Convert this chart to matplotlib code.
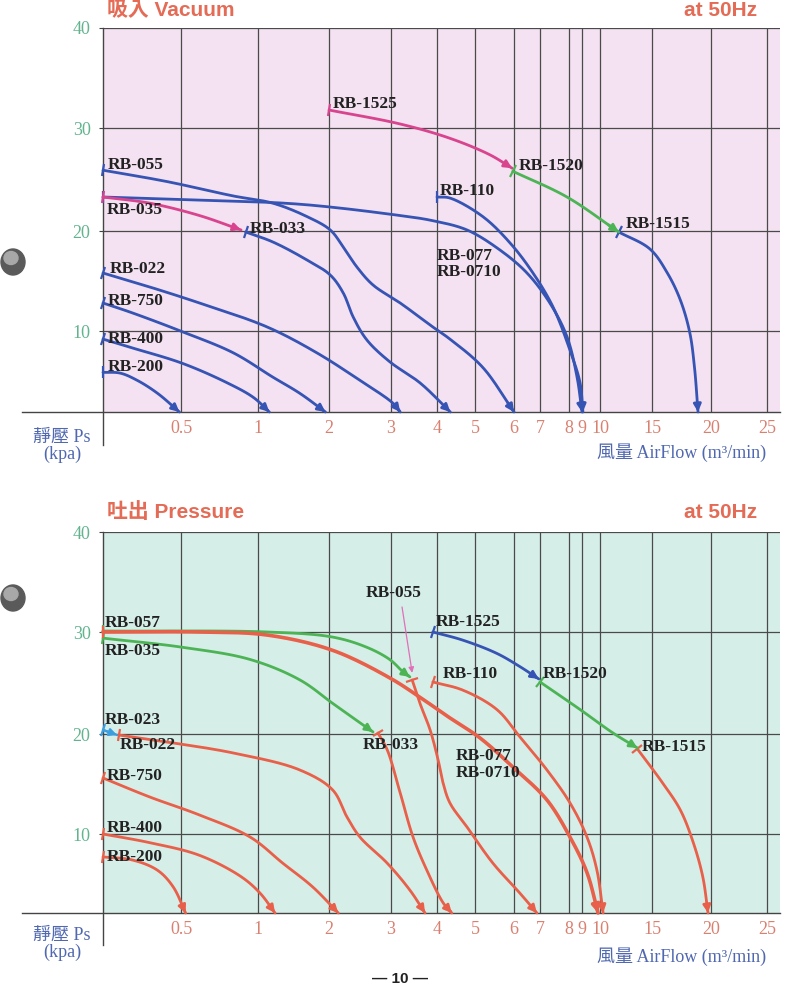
import numpy as np
import matplotlib
matplotlib.use("Agg")
import matplotlib.pyplot as plt
from matplotlib.markers import MarkerStyle
from matplotlib.transforms import Affine2D
from matplotlib.patches import Ellipse
from matplotlib.lines import Line2D

# ---- axis grid (hand drawn, uneven spacing) ----
airflow_ticks = [0.5, 1, 2, 3, 4, 5, 6, 7, 8, 9, 10, 15, 20, 25]
airflow_labels = ["0.5", "1", "2", "3", "4", "5", "6", "7", "8", "9", "10", "15", "20", "25"]
x_scale_vals = [0, 0.5, 1, 2, 3, 4, 5, 6, 7, 8, 9, 10, 15, 20, 25, 30]
x_scale_pos = [0, 78, 155, 226, 288, 334, 372, 411, 437, 466, 479, 497, 549, 608, 664, 720]
y_scale_vals = [0, 10, 20, 30, 40]
y_pos_vac = [0, 81, 181, 284, 384]
y_pos_pre = [0, 79, 179, 281, 381]
ps_ticks = [10, 20, 30, 40]

# ---- 吸入 Vacuum curves (x: m3/min, y: kPa) ----
v200_x = [0, 0.11, 0.22, 0.35, 0.49]
v200_y = [4.9, 4.8, 3.9, 2.3, 0]
v400_x = [0, 0.19, 0.51, 0.8, 0.97, 1.16]
v400_y = [9.0, 7.9, 6.0, 3.6, 1.8, 0]
v750_x = [0, 0.19, 0.51, 0.84, 1.21, 1.59, 1.95]
v750_y = [12.8, 11.8, 9.9, 7.3, 4.3, 2.3, 0]
v022_x = [0, 0.30, 0.62, 1.13, 1.83, 2.5, 3.04, 3.2]
v022_y = [15.8, 14.4, 12.8, 10.4, 7.3, 3.9, 1.1, 0]
v033_x = [0.92, 1.21, 1.69, 2.02, 2.23, 2.39, 2.61, 2.98, 3.63, 4.35]
v033_y = [19.9, 18.9, 17.1, 15.6, 13.8, 11.4, 8.9, 6.2, 3.6, 0]
v055_x = [0, 0.41, 0.84, 1.21, 1.69, 2.02, 2.23, 2.45, 2.71, 3.2, 3.91, 4.34, 5.2, 6.0]
v055_y = [25.9, 24.8, 23.4, 22.7, 21.4, 20.1, 18.4, 16.4, 14.6, 12.8, 10.4, 9.0, 5.5, 0]
v077_x = [0, 0.62, 1.59, 3.2, 3.91, 4.79, 5.64, 6.5, 7.34, 7.93, 8.62, 9.0]
v077_y = [23.3, 23.0, 22.6, 21.5, 21.0, 20.1, 18.1, 15.8, 12.8, 9.3, 4.3, 0]
v110_x = [4.0, 4.34, 5.2, 5.9, 6.73, 7.45, 8.08, 8.85, 9.05]
v110_y = [23.3, 23.2, 21.4, 18.8, 15.8, 12.4, 7.6, 3.6, 0]
v1525_x = [2.0, 3.2, 4.34, 5.38, 5.95]
v1525_y = [31.8, 30.4, 29.0, 27.4, 26.1]
v1520_x = [5.97, 7.93, 11.8]
v1520_y = [25.8, 23.3, 19.9]
v1515_x = [11.8, 14.8, 16.3, 17.4, 18.2, 18.6, 18.9]
v1515_y = [19.9, 18.2, 15.8, 13.1, 9.8, 5.5, 0]
v035_x = [0, 0.30, 0.62, 0.89]
v035_y = [23.3, 22.7, 21.5, 20.1]

# ---- 吐出 Pressure curves ----
p200_x = [0, 0.19, 0.35, 0.45, 0.53]
p200_y = [7.1, 6.7, 5.4, 3.3, 0]
p400_x = [0, 0.30, 0.62, 0.89, 1.03, 1.24]
p400_y = [10.0, 8.9, 7.3, 4.6, 2.5, 0]
p750_x = [0, 0.30, 0.62, 0.95, 1.35, 1.77, 2.15]
p750_y = [15.6, 13.7, 11.9, 9.6, 6.3, 3.3, 0]
p023_x = [0, 0.09]
p023_y = [20.4, 19.9]
p022_x = [0.1, 0.41, 0.84, 1.59, 2.06, 2.29, 2.5, 2.94, 3.41, 3.74]
p022_y = [19.9, 19.2, 18.1, 16.4, 14.4, 11.7, 9.6, 6.3, 2.9, 0]
p033_x = [2.79, 2.94, 3.2, 3.48, 3.78, 4.16, 4.39]
p033_y = [20.1, 18.4, 14.1, 9.6, 5.4, 1.3, 0]
p055_x = [3.46, 3.63, 3.85, 4.03, 4.16, 4.34, 4.79, 5.46, 6.23, 6.88]
p055_y = [25.3, 23.0, 20.4, 17.4, 15.1, 13.1, 10.7, 6.3, 2.5, 0]
p057_x = [0, 0.62, 1.13, 2.06, 2.98, 3.63, 4.29, 5.13, 5.97, 7.24, 8.08, 9.28, 9.89]
p057_y = [30, 30, 29.7, 28.2, 25.5, 23.6, 21.7, 19.6, 16.7, 13.4, 9.6, 5.1, 0]
p110_x = [3.91, 4.68, 5.56, 6.23, 7.24, 8.08, 9.28, 9.83, 10.3]
p110_y = [25.1, 24.3, 22.4, 19.7, 16.4, 13.1, 9.6, 5.4, 0]
p1525_x = [3.91, 4.68, 5.56, 6.23, 6.95]
p1525_y = [30, 29.2, 27.9, 26.6, 25.4]
p1520_x = [7.0, 8.85, 11.25, 13.6]
p1520_y = [25.1, 22.4, 20.1, 18.6]
p1515_x = [13.6, 15.9, 17.4, 18.5, 19.3, 19.75]
p1515_y = [18.5, 15.1, 12.4, 8.9, 4.6, 0]
p057g_x = [0, 1.13, 2.06, 2.61, 2.98, 3.26, 3.41]
p057g_y = [30.1, 30, 29.5, 28.5, 27.3, 26.1, 25.6]
p035_x = [0, 0.51, 0.95, 1.59, 2.06, 2.5, 2.71]
p035_y = [29.4, 28.5, 27.3, 25.3, 23.0, 21.1, 20.2]

BLUE = "#3654b4"
PINK = "#d8448e"
GREEN = "#4cb455"
RED = "#e8604a"
LBLUE = "#3b9ee0"

SERIF = ["Liberation Serif", "Noto Sans CJK TC"]
SANS = ["Liberation Sans", "Noto Sans CJK TC"]


def make_scale(vals, pos):
    return (lambda v: np.interp(v, vals, pos), lambda p: np.interp(p, pos, vals))


def setup(ax, bg, ypos):
    ax.set_facecolor(bg)
    ax.set_xscale("function", functions=make_scale(x_scale_vals, x_scale_pos))
    ax.set_yscale("function", functions=make_scale(y_scale_vals, ypos))
    ax.set_xlim(0, 26.16)
    ax.set_ylim(0, 40)
    ax.set_xticks(airflow_ticks)
    ax.set_xticklabels(airflow_labels, family=SERIF, fontsize=13, color="#d98070")
    ax.set_yticks(ps_ticks)
    ax.set_yticklabels([str(t) for t in ps_ticks], family=SERIF, fontsize=13, color="#62b48e")
    ax.xaxis.set_minor_locator(matplotlib.ticker.NullLocator())
    ax.yaxis.set_minor_locator(matplotlib.ticker.NullLocator())
    ax.tick_params(axis="x", length=0, pad=6)
    ax.tick_params(axis="y", length=3, color="#444", pad=6)
    ax.grid(True, color="#4a4a4a", lw=0.9)
    ax.set_axisbelow(True)
    for s in ax.spines.values():
        s.set_visible(False)
    ax.add_line(Line2D([0, 0], [-0.085, 1], transform=ax.transAxes, color="#444", lw=1.0, clip_on=False))
    ax.add_line(Line2D([-0.12, 1], [0, 0], transform=ax.transAxes, color="#444", lw=1.0, clip_on=False))


def catmull_rom(pts, n=20):
    # centripetal Catmull-Rom through the points (display space), only for drawing
    if len(pts) < 3:
        return pts
    P = np.vstack([2 * pts[0] - pts[1], pts, 2 * pts[-1] - pts[-2]])
    out = []
    for i in range(1, len(P) - 2):
        p0, p1, p2, p3 = P[i - 1], P[i], P[i + 1], P[i + 2]
        t0 = 0.0
        t1 = t0 + max(np.linalg.norm(p1 - p0), 1e-6) ** 0.5
        t2 = t1 + max(np.linalg.norm(p2 - p1), 1e-6) ** 0.5
        t3 = t2 + max(np.linalg.norm(p3 - p2), 1e-6) ** 0.5
        t = np.linspace(t1, t2, n, endpoint=False)[:, None]
        a1 = (t1 - t) / (t1 - t0) * p0 + (t - t0) / (t1 - t0) * p1
        a2 = (t2 - t) / (t2 - t1) * p1 + (t - t1) / (t2 - t1) * p2
        a3 = (t3 - t) / (t3 - t2) * p2 + (t - t2) / (t3 - t2) * p3
        b1 = (t2 - t) / (t2 - t0) * a1 + (t - t0) / (t2 - t0) * a2
        b2 = (t3 - t) / (t3 - t1) * a2 + (t - t1) / (t3 - t1) * a3
        out.append((t2 - t) / (t2 - t1) * b1 + (t - t1) / (t2 - t1) * b2)
    out.append(pts[-1:])
    return np.vstack(out)


def curve(ax, x, y, color, lw=2.0, head=True, cap=True):
    disp = ax.transData.transform(np.column_stack([x, y]))
    dense = ax.transData.inverted().transform(catmull_rom(disp))
    ax.plot(dense[:, 0], dense[:, 1], color=color, lw=lw, solid_capstyle="round",
            solid_joinstyle="round", clip_on=False)
    if head:
        k = max(len(dense) - 5, 0)
        ax.annotate("", xy=tuple(dense[-1]), xytext=tuple(dense[k]),
                    arrowprops=dict(arrowstyle="-|>", color=color, lw=lw, mutation_scale=11,
                                    shrinkA=0, shrinkB=0), annotation_clip=False)
    if cap:
        d = catmull_rom(disp)
        j = min(3, len(d) - 1)
        ang = np.degrees(np.arctan2(d[j, 1] - d[0, 1], d[j, 0] - d[0, 0]))
        m = MarkerStyle("|", transform=Affine2D().rotate_deg(ang))
        ax.plot(x[0], y[0], marker=m, ms=9, mew=1.6, color=color, clip_on=False)


fig = plt.figure(figsize=(8, 9.88), dpi=100)
ax1 = fig.add_axes([103 / 800, 1 - 412 / 988, 677 / 800, 384 / 988])
ax2 = fig.add_axes([103 / 800, 1 - 913 / 988, 677 / 800, 381 / 988])
setup(ax1, "#f4e1f1", y_pos_vac)
setup(ax2, "#d6eee8", y_pos_pre)

# vacuum
for cx, cy in [(v200_x, v200_y), (v400_x, v400_y), (v750_x, v750_y), (v022_x, v022_y),
               (v033_x, v033_y), (v055_x, v055_y), (v077_x, v077_y), (v110_x, v110_y),
               (v1515_x, v1515_y)]:
    curve(ax1, cx, cy, BLUE)
curve(ax1, v035_x, v035_y, PINK)
curve(ax1, v1525_x, v1525_y, PINK)
curve(ax1, v1520_x, v1520_y, GREEN)

# pressure
for cx, cy in [(p200_x, p200_y), (p400_x, p400_y), (p750_x, p750_y), (p022_x, p022_y),
               (p033_x, p033_y), (p055_x, p055_y), (p110_x, p110_y), (p1515_x, p1515_y)]:
    curve(ax2, cx, cy, RED)
curve(ax2, p057g_x, p057g_y, GREEN)
curve(ax2, p035_x, p035_y, GREEN)
curve(ax2, p057_x, p057_y, RED, lw=2.6)
curve(ax2, p1525_x, p1525_y, BLUE)
curve(ax2, p1520_x, p1520_y, GREEN)
curve(ax2, p023_x, p023_y, LBLUE, lw=1.6)
ax2.annotate("", xy=(3.46, 26.0), xytext=(3.24, 32.5),
             arrowprops=dict(arrowstyle="-|>", color="#e070b8", lw=0.9, mutation_scale=8,
                             shrinkA=0, shrinkB=0))


def label(txt, x, y):
    fig.text(x / 800, 1 - y / 988, txt, family=SERIF, weight="bold", fontsize=12.5,
             color="#222222", va="center", ha="left")


for t, x, y in [("RB-1525", 333, 104), ("RB-055", 108, 165), ("RB-035", 107, 210),
                ("RB-033", 250, 229), ("RB-022", 110, 269), ("RB-750", 108, 301),
                ("RB-400", 108, 339), ("RB-200", 108, 367), ("RB-1520", 519, 166),
                ("RB-110", 440, 191), ("RB-1515", 626, 224), ("RB-077", 437, 256),
                ("RB-0710", 437, 272),
                ("RB-055", 366, 593), ("RB-057", 105, 623), ("RB-1525", 436, 622),
                ("RB-035", 105, 651), ("RB-110", 443, 674), ("RB-1520", 543, 674),
                ("RB-023", 105, 720), ("RB-022", 120, 745), ("RB-033", 363, 745),
                ("RB-1515", 642, 747), ("RB-077", 456, 756), ("RB-0710", 456, 773),
                ("RB-750", 107, 776), ("RB-400", 107, 828), ("RB-200", 107, 857)]:
    label(t, x, y)

# titles
TITLE_C = "#e46b55"
fig.text(107 / 800, 1 - 11 / 988, "吸入 Vacuum", family=SANS, weight="bold", fontsize=15,
         color=TITLE_C, va="center")
fig.text(757 / 800, 1 - 11 / 988, "at 50Hz", family=SANS, weight="bold", fontsize=15,
         color=TITLE_C, va="center", ha="right")
fig.text(107 / 800, 1 - 512 / 988, "吐出 Pressure", family=SANS, weight="bold", fontsize=15,
         color=TITLE_C, va="center")
fig.text(757 / 800, 1 - 512 / 988, "at 50Hz", family=SANS, weight="bold", fontsize=15,
         color=TITLE_C, va="center", ha="right")

# axis captions
AX_C = "#5068b0"
for yy in (437, 935):
    fig.text(62 / 800, 1 - yy / 988, "靜壓 Ps", family=SERIF, fontsize=13, color=AX_C,
             va="center", ha="center")
    fig.text(62 / 800, 1 - (yy + 17) / 988, "(kpa)", family=SERIF, fontsize=13, color=AX_C,
             va="center", ha="center")
for yy in (453, 957):
    fig.text(766 / 800, 1 - yy / 988, "風量 AirFlow (m³/min)", family=SERIF, fontsize=13,
             color=AX_C, va="center", ha="right")

fig.text(0.5, 1 - 979 / 988, "— 10 —", family=SANS, weight="bold", fontsize=11,
         color="#222222", va="center", ha="center")

# binder holes from the scan
for yy in (262, 598):
    fig.patches.append(Ellipse((13 / 800, 1 - yy / 988), 24 / 800, 26 / 988,
                               transform=fig.transFigure, color="#5a5a5a", zorder=0))
    fig.patches.append(Ellipse((11 / 800, 1 - (yy - 4) / 988), 14 / 800, 13 / 988,
                               transform=fig.transFigure, color="#a8a8a8", zorder=0))

fig.savefig("out.png", dpi=100, facecolor="white")
